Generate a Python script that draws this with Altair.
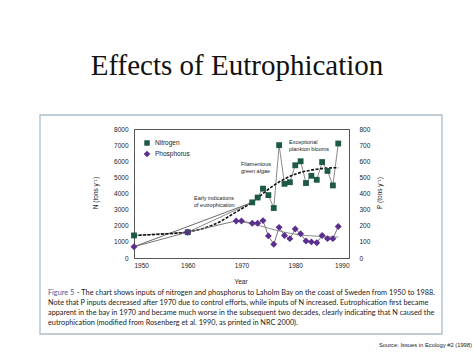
import altair as alt
import pandas as pd

# ---- data ----
n_years = [1950, 1960, 1972, 1973, 1974, 1975, 1976, 1977, 1978, 1979, 1980,
           1981, 1982, 1983, 1984, 1985, 1986, 1987, 1988]
n_vals = [1400, 1600, 3450, 3750, 4300, 3900, 3100, 7000, 4600, 4700, 5750,
          6000, 4650, 5100, 4850, 5950, 5400, 4500, 7100]

p_years = [1950, 1960, 1969, 1970, 1972, 1973, 1974, 1975, 1976, 1977, 1978,
           1979, 1980, 1981, 1982, 1983, 1984, 1985, 1986, 1987, 1988]
p_vals = [70, 160, 230, 230, 215, 215, 232, 137, 85, 190, 140,
          120, 180, 150, 105, 100, 95, 140, 120, 120, 195]

n_trend_years = [1950, 1955, 1960, 1963, 1966, 1968, 1970, 1972, 1974, 1976,
                 1978, 1980, 1983, 1986, 1988]
n_trend_vals = [1400, 1480, 1620, 1850, 2250, 2650, 3050, 3450, 4000, 4500,
                4900, 5200, 5450, 5580, 5600]

early_years = [1950, 1972]
early_vals = [700, 3450]

p_trend_years = [1969, 1972, 1975, 1978, 1981, 1984, 1988]
p_trend_vals = [230, 212, 185, 160, 143, 135, 130]

x_ticks = [1950, 1960, 1970, 1980, 1990]
n_ticks = list(range(0, 8001, 1000))
p_ticks = list(range(0, 801, 100))

title_text = "Effects of Eutrophication"
caption_lines = [
    "The chart shows inputs of nitrogen and phosphorus to Laholm Bay on the coast of Sweden from 1950 to 1988.",
    "Note that P inputs decreased after 1970 due to control efforts, while inputs of N increased.  Eutrophication first became",
    "apparent in the bay in 1970 and became much worse in the subsequent two decades, clearly indicating that N caused the",
    "eutrophication (modified from Rosenberg et al. 1990, as printed in NRC 2000).",
]
source_text = "Source: Issues in Ecology #2 (1998)"

n_df = pd.DataFrame({"year": n_years, "v": n_vals})
p_df = pd.DataFrame({"year": p_years, "v": p_vals})
nt_df = pd.DataFrame({"year": n_trend_years, "v": n_trend_vals})
e_df = pd.DataFrame({"year": early_years, "v": early_vals})
pt_df = pd.DataFrame({"year": p_trend_years, "v": p_trend_vals})

GREEN = "#1d5a44"
PURPLE = "#5a2f8e"
LBL = 6.5
FONT = "Liberation Sans"

xenc = alt.X("year:Q", scale=alt.Scale(domain=[1950, 1990], nice=False),
             axis=alt.Axis(values=x_ticks, format="d", title=None, grid=False,
                           ticks=False, labelFontSize=LBL, labelPadding=4,
                           labelColor="#222", domainColor="#555", labelFont=FONT))
yN = alt.Y("v:Q", scale=alt.Scale(domain=[0, 8000], nice=False),
           axis=alt.Axis(values=n_ticks, format="d", title=None, grid=False, ticks=False,
                         orient="left", labelFontSize=LBL, labelPadding=6,
                         labelColor="#222", domainColor="#555", labelFont=FONT))
yP = alt.Y("v:Q", scale=alt.Scale(domain=[0, 800], nice=False),
           axis=alt.Axis(values=p_ticks, format="d", title=None, grid=False, ticks=False,
                         orient="right", labelFontSize=LBL, labelPadding=10,
                         labelColor="#222", domainColor="#555", labelFont=FONT))

n_line = alt.Chart(n_df).mark_line(color="#7c7c7c", strokeWidth=0.9).encode(x=xenc, y=yN)
n_trend = alt.Chart(nt_df).mark_line(color="#111", strokeWidth=1.6, strokeDash=[3, 1.5],
                                     interpolate="monotone").encode(x=xenc, y=yN)
early = alt.Chart(e_df).mark_line(color="#444", strokeWidth=0.8).encode(x=xenc, y=yN)
n_pts = alt.Chart(n_df).mark_point(shape="square", filled=True, color=GREEN, size=34,
                                   opacity=1).encode(x=xenc, y=yN)
layer_n = alt.layer(early, n_line, n_trend, n_pts)

p_line = alt.Chart(p_df).mark_line(color="#6a6a6a", strokeWidth=0.9).encode(x=xenc, y=yP)
p_trend = alt.Chart(pt_df).mark_line(color="#8a8a8a", strokeWidth=1.0,
                                     interpolate="monotone").encode(x=xenc, y=yP)
p_pts = alt.Chart(p_df).mark_point(shape="diamond", filled=True, color=PURPLE, size=48,
                                   opacity=1).encode(x=xenc, y=yP)
layer_p = alt.layer(p_line, p_trend, p_pts)

one = alt.Data(values=[{}])


def txt(text, x, y, size=6, color="#222", align="left", angle=0, font=FONT,
        baseline="middle"):
    kw = dict(text=text, fontSize=size, color=color, align=align, font=font,
              baseline=baseline)
    if angle:
        kw["angle"] = angle
    return alt.Chart(one).mark_text(**kw).encode(x=alt.value(x), y=alt.value(y))


frame = alt.Chart(one).mark_rect(fill="transparent", stroke="#a9bdcc",
                                 strokeWidth=1.3).encode(
    x=alt.value(-94), x2=alt.value(308), y=alt.value(-14), y2=alt.value(205))

legend_n = alt.Chart(one).mark_point(shape="square", filled=True, color=GREEN, size=30,
                                     opacity=1).encode(x=alt.value(13), y=alt.value(14))
legend_p = alt.Chart(one).mark_point(shape="diamond", filled=True, color=PURPLE, size=44,
                                     opacity=1).encode(x=alt.value(13), y=alt.value(25))

CAP = 7.3
texts = [
    txt(title_text, 103, -54, size=29, color="#111", align="center",
        font="Liberation Serif", baseline="alphabetic"),
    txt("Nitrogen", 21, 14, size=6.5),
    txt("Phosphorus", 21, 25, size=6.5),
    txt("Exceptional", 155, 13, size=5.5),
    txt("plankton blooms", 155, 19.5, size=5.5),
    txt("Filamentous", 107, 35, size=5.5),
    txt("green algae", 107, 42, size=5.5),
    txt("Early indications", 60, 69, size=5.5),
    txt("of eutrophication", 60, 76, size=5.5),
    txt("N (tons y\u207b\u00b9)", -38, 64, size=6.5, align="center", angle=270),
    txt("P (tons y\u207b\u00b9)", 246, 64, size=6.5, align="center", angle=270),
    txt("Year", 107, 153, size=6.5, align="center"),
    txt("Figure 5", -86, 164, size=CAP, color="#2f5fa8", font="Lato"),
    txt("- " + caption_lines[0], -57, 164, size=CAP, font="Lato"),
    txt(caption_lines[1], -86, 174, size=CAP, font="Lato"),
    txt(caption_lines[2], -86, 184, size=CAP, font="Lato"),
    txt(caption_lines[3], -86, 193.5, size=CAP, font="Lato"),
    txt(source_text, 338, 216, size=5.8, align="right"),
]

data_layers = alt.layer(layer_n, layer_p).resolve_scale(y="independent")

chart = alt.layer(frame, data_layers, legend_n, legend_p, *texts).properties(
    width=215, height=129,
    padding={"left": 134, "top": 129, "right": 125, "bottom": 97},
    autosize=alt.AutoSizeParams(type="none"),
    background="white",
).configure_view(stroke="#555", strokeWidth=1)

chart.save("out.html", embed_options={"renderer": "svg", "actions": False})
